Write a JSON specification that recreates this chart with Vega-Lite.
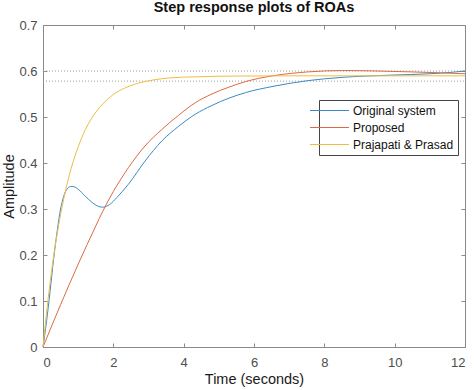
{
  "$schema": "https://vega.github.io/schema/vega-lite/v6.json",
  "width": 422,
  "height": 322,
  "autosize": {"type": "none"},
  "padding": {"left": 43, "top": 25, "right": 9, "bottom": 43},
  "background": "white",
  "config": {
    "font": "Liberation Sans",
    "view": {"stroke": "#8a8a8a", "strokeWidth": 1},
    "axis": {"grid": false, "domainColor": "#8a8a8a", "tickColor": "#8a8a8a", "labelColor": "#4d4d4d", "labelFontSize": 13, "titleFontSize": 14.5, "titleFontWeight": "normal", "titleColor": "#1a1a1a", "labelFont": "Liberation Sans", "titleFont": "Liberation Sans"}
  },
  "title": {"text": "Step response plots of ROAs", "fontSize": 14.5, "fontWeight": "bold", "font": "Liberation Sans", "color": "#111", "offset": 4},
  "datasets": {
    "curves": [
      {"series": "Original system", "t": 0, "v": 0},
      {"series": "Original system", "t": 0.1, "v": 0.055},
      {"series": "Original system", "t": 0.2, "v": 0.12},
      {"series": "Original system", "t": 0.3, "v": 0.19},
      {"series": "Original system", "t": 0.4, "v": 0.25},
      {"series": "Original system", "t": 0.5, "v": 0.3},
      {"series": "Original system", "t": 0.6, "v": 0.33},
      {"series": "Original system", "t": 0.7, "v": 0.345},
      {"series": "Original system", "t": 0.8, "v": 0.349},
      {"series": "Original system", "t": 0.9, "v": 0.348},
      {"series": "Original system", "t": 1.0, "v": 0.343},
      {"series": "Original system", "t": 1.2, "v": 0.328},
      {"series": "Original system", "t": 1.4, "v": 0.314},
      {"series": "Original system", "t": 1.6, "v": 0.305},
      {"series": "Original system", "t": 1.7, "v": 0.304},
      {"series": "Original system", "t": 1.9, "v": 0.31},
      {"series": "Original system", "t": 2.1, "v": 0.325},
      {"series": "Original system", "t": 2.43, "v": 0.354},
      {"series": "Original system", "t": 2.9, "v": 0.404},
      {"series": "Original system", "t": 3.38, "v": 0.448},
      {"series": "Original system", "t": 3.86, "v": 0.48},
      {"series": "Original system", "t": 4.33, "v": 0.506},
      {"series": "Original system", "t": 4.8, "v": 0.525},
      {"series": "Original system", "t": 5.29, "v": 0.541},
      {"series": "Original system", "t": 5.76, "v": 0.553},
      {"series": "Original system", "t": 6.57, "v": 0.567},
      {"series": "Original system", "t": 7.53, "v": 0.579},
      {"series": "Original system", "t": 8.48, "v": 0.586},
      {"series": "Original system", "t": 9.9, "v": 0.591},
      {"series": "Original system", "t": 11.0, "v": 0.594},
      {"series": "Original system", "t": 11.6, "v": 0.597},
      {"series": "Original system", "t": 12.0, "v": 0.6},
      {"series": "Proposed", "t": 0, "v": 0},
      {"series": "Proposed", "t": 0.5, "v": 0.092},
      {"series": "Proposed", "t": 1.0, "v": 0.18},
      {"series": "Proposed", "t": 1.5, "v": 0.263},
      {"series": "Proposed", "t": 1.7, "v": 0.295},
      {"series": "Proposed", "t": 2.0, "v": 0.338},
      {"series": "Proposed", "t": 2.43, "v": 0.39},
      {"series": "Proposed", "t": 2.9, "v": 0.437},
      {"series": "Proposed", "t": 3.38, "v": 0.473},
      {"series": "Proposed", "t": 3.86, "v": 0.504},
      {"series": "Proposed", "t": 4.33, "v": 0.531},
      {"series": "Proposed", "t": 4.8, "v": 0.55},
      {"series": "Proposed", "t": 5.29, "v": 0.565},
      {"series": "Proposed", "t": 5.76, "v": 0.577},
      {"series": "Proposed", "t": 6.57, "v": 0.59},
      {"series": "Proposed", "t": 7.53, "v": 0.598},
      {"series": "Proposed", "t": 8.5, "v": 0.601},
      {"series": "Proposed", "t": 9.5, "v": 0.6},
      {"series": "Proposed", "t": 10.5, "v": 0.598},
      {"series": "Proposed", "t": 11.3, "v": 0.596},
      {"series": "Proposed", "t": 12.0, "v": 0.594},
      {"series": "Prajapati & Prasad", "t": 0, "v": 0},
      {"series": "Prajapati & Prasad", "t": 0.1, "v": 0.074},
      {"series": "Prajapati & Prasad", "t": 0.2, "v": 0.139},
      {"series": "Prajapati & Prasad", "t": 0.3, "v": 0.196},
      {"series": "Prajapati & Prasad", "t": 0.4, "v": 0.245},
      {"series": "Prajapati & Prasad", "t": 0.5, "v": 0.288},
      {"series": "Prajapati & Prasad", "t": 0.6, "v": 0.326},
      {"series": "Prajapati & Prasad", "t": 0.7, "v": 0.359},
      {"series": "Prajapati & Prasad", "t": 0.8, "v": 0.388},
      {"series": "Prajapati & Prasad", "t": 1.0, "v": 0.435},
      {"series": "Prajapati & Prasad", "t": 1.2, "v": 0.472},
      {"series": "Prajapati & Prasad", "t": 1.35, "v": 0.493},
      {"series": "Prajapati & Prasad", "t": 1.6, "v": 0.52},
      {"series": "Prajapati & Prasad", "t": 1.8, "v": 0.536},
      {"series": "Prajapati & Prasad", "t": 2.0, "v": 0.549},
      {"series": "Prajapati & Prasad", "t": 2.3, "v": 0.562},
      {"series": "Prajapati & Prasad", "t": 2.6, "v": 0.571},
      {"series": "Prajapati & Prasad", "t": 3.1, "v": 0.58},
      {"series": "Prajapati & Prasad", "t": 3.6, "v": 0.585},
      {"series": "Prajapati & Prasad", "t": 4.4, "v": 0.5875},
      {"series": "Prajapati & Prasad", "t": 5.5, "v": 0.589},
      {"series": "Prajapati & Prasad", "t": 7.0, "v": 0.5895},
      {"series": "Prajapati & Prasad", "t": 9.0, "v": 0.5895},
      {"series": "Prajapati & Prasad", "t": 12.0, "v": 0.5895}
    ],
    "refs": [
      {"level": 0.6, "from": 0, "to": 12},
      {"level": 0.578, "from": 0, "to": 12}
    ]
  },
  "layer": [
    {
      "data": {"name": "refs"},
      "mark": {"type": "rule", "color": "#9a9a9a", "strokeDash": [1, 2], "strokeWidth": 1},
      "encoding": {
        "x": {"field": "from", "type": "quantitative", "scale": {"domain": [0, 12], "nice": false}, "axis": {"orient": "top", "labels": false, "title": null, "domain": false, "tickSize": -4, "values": [0, 2, 4, 6, 8, 10, 12]}},
        "x2": {"field": "to"},
        "y": {"field": "level", "type": "quantitative", "scale": {"domain": [0, 0.7], "nice": false}, "axis": {"orient": "right", "labels": false, "title": null, "domain": false, "tickSize": -4, "values": [0, 0.1, 0.2, 0.3, 0.4, 0.5, 0.6, 0.7]}}
      }
    },
    {
      "data": {"name": "curves"},
      "mark": {"type": "line", "strokeWidth": 1, "interpolate": "monotone"},
      "encoding": {
        "x": {"field": "t", "type": "quantitative", "scale": {"domain": [0, 12], "nice": false}, "axis": {"orient": "bottom", "title": "Time (seconds)", "tickSize": -4, "labelPadding": 13, "titlePadding": 3, "values": [0, 2, 4, 6, 8, 10, 12]}},
        "y": {"field": "v", "type": "quantitative", "scale": {"domain": [0, 0.7], "nice": false}, "axis": {"orient": "left", "title": "Amplitude", "tickSize": -4, "labelPadding": 10, "titlePadding": 2, "values": [0, 0.1, 0.2, 0.3, 0.4, 0.5, 0.6, 0.7], "format": ".1~f"}},
        "color": {"field": "series", "type": "nominal", "sort": ["Original system", "Proposed", "Prajapati & Prasad"],
          "scale": {"domain": ["Original system", "Proposed", "Prajapati & Prasad"], "range": ["#3a8ac6", "#dd6a42", "#eebd45"]},
          "legend": {"orient": "none", "legendX": 276, "legendY": 75, "title": null, "strokeColor": "#444", "fillColor": "white", "padding": 4, "labelFontSize": 12, "labelColor": "#111", "labelFont": "Liberation Sans", "symbolType": "M-3.25,0H3.25", "symbolSize": 144, "symbolStrokeWidth": 1, "labelOffset": 17, "rowPadding": 4}
        }
      }
    }
  ],
  "resolve": {"axis": {"x": "independent", "y": "independent"}}
}
